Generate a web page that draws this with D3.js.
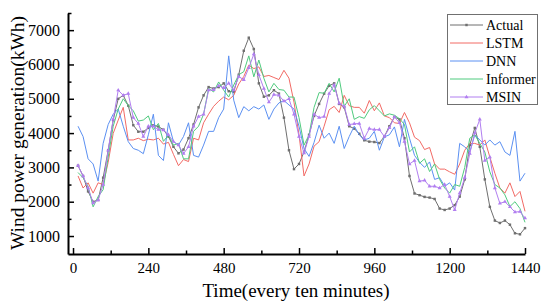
<!DOCTYPE html>
<html><head><meta charset="utf-8">
<script src="https://cdn.jsdelivr.net/npm/d3@7"></script>
<style>
body{margin:0;background:#fff}
svg{display:block;background:#fff}
text{font-family:"Liberation Serif","Times New Roman",serif;fill:#000}
</style>
</head><body>
<svg id="c" width="550" height="303"></svg>
<script>
// Time index (every ten minutes), one sample every 16 steps
const times = d3.range(16, 1441, 16);

const actual = [3050,2750,2300,2000,2050,2700,3500,4380,5000,5100,
  4800,4230,4040,4040,4150,4230,4190,4100,3900,3600,
  3410,3520,3850,4250,4750,5100,5340,5300,5340,5450,
  5220,5200,5700,6400,6780,6450,5450,5060,5100,5250,
  5150,4450,3500,2950,3100,3450,3950,4500,4850,5150,
  5380,5450,4850,4750,4200,4130,3980,3790,3750,3740,
  3710,3900,4200,4470,4400,3850,2750,2240,2190,2140,
  2120,2080,1800,1760,1800,1900,2150,2650,3650,4150,
  3600,2650,1850,1450,1380,1450,1330,1080,1050,1230];

const lstm = [2750,2400,2550,2250,2550,2500,3150,3990,4380,4750,
  3800,3800,3850,3780,3820,3800,3850,3680,3730,3380,
  3050,3230,3170,3850,3800,4300,4550,4780,4930,5050,
  4970,5100,5430,5650,5980,5880,5930,5650,5680,5620,
  5560,5830,5600,4900,3950,2750,3100,3620,3750,4200,
  4680,4780,4600,5100,4800,4750,4750,4580,4950,4650,
  4880,4500,4450,4300,4280,4600,4300,3880,3780,3520,
  3580,3100,2950,2950,2870,2800,3100,3500,3700,3700,
  3650,3800,3300,2830,2400,2250,2550,2150,2300,1720];

const dnn = [4200,3900,3250,3100,2600,3700,4250,4550,4700,4200,
  3750,3550,3500,3400,3950,4550,3350,3200,4300,3750,
  3650,3900,4300,3350,3300,3650,4050,4050,4450,4700,
  6250,4960,4450,4770,4650,4770,4700,4820,4400,4700,
  4880,4950,4820,4700,4200,3550,3320,3730,4230,3850,
  4000,3700,4200,3550,3900,4200,3950,3800,3850,4050,
  3500,3890,3950,4180,3600,4400,3850,3350,3150,3000,
  3160,2650,2700,2450,2550,2340,3700,3600,3450,3950,
  3800,3650,3800,3650,3750,3450,3350,4050,2600,2830];

const informer = [2850,2700,2450,1850,2150,2350,3300,4200,4700,5000,
  4800,4650,4350,4380,4500,4100,4280,3760,3940,3650,
  3700,3250,3250,4050,4200,4550,5300,5200,5490,5250,
  5050,5400,5700,5790,6250,5640,6130,5600,5200,5450,
  5270,5250,5050,5050,4450,3650,3950,4750,5180,5160,
  5450,5200,5600,4780,5000,4400,4480,4430,4680,4800,
  4650,4500,4560,4520,4420,4250,3450,3600,3120,3250,
  2880,3100,2650,2400,2250,2500,2450,3000,3850,3950,
  3700,3450,2870,2500,2400,2200,1860,2000,1800,1400];

const msin = [3050,2750,2400,1960,2050,2500,3500,4400,5250,5100,
  5150,4450,4280,3900,4200,4200,4100,4090,3950,3750,
  3650,3400,3600,4200,4480,4550,5250,5260,5380,5320,
  5450,5250,5650,5550,5900,6300,5700,5300,4900,5120,
  5100,4930,5000,4550,3900,3420,3900,4550,4450,4480,
  5150,5400,4870,4780,4250,4270,4280,3850,4130,4100,
  4100,3900,4150,4470,4300,3750,3100,3200,2600,2620,
  2450,2450,2400,2500,2150,1760,2250,2700,3400,4000,
  4400,3200,3300,2400,1950,2000,1850,1700,1710,1520];

const seriesNames = ["Actual","LSTM","DNN","Informer","MSIN"];
const seriesValues = [actual, lstm, dnn, informer, msin];
const colors = ["#6f6f6f","#f26a65","#5b90f2","#4fcb7e","#b17ef0"];
const markers = ["square", null, null, null, "triangle"];

const xTicks = [0,240,480,720,960,1200,1440];
const xMinor = [120,360,600,840,1080,1320];
const yTicks = [1000,2000,3000,4000,5000,6000,7000];
const yMinor = [1500,2500,3500,4500,5500,6500,7500];

const svg = d3.select("#c");
const x = d3.scaleLinear().domain([-16,1440]).range([68,525]);
const y = d3.scaleLinear().domain([476,7500]).range([254,13]);

// series
const line = d3.line().x((d,i)=>x(times[i])).y(d=>y(d));
const sq = d3.symbol().type(d3.symbolSquare).size(6);
const tri = d3.symbol().type(d3.symbolTriangle).size(7);

seriesValues.forEach((vals, k) => {
  const g = svg.append("g");
  g.append("path").datum(vals).attr("d", line)
    .attr("fill","none").attr("stroke",colors[k]).attr("stroke-width",1)
    .attr("stroke-linejoin","round");
  if (markers[k]) {
    g.selectAll("path.m").data(vals).enter().append("path").attr("class","m")
      .attr("d", markers[k]==="square" ? sq : tri)
      .attr("transform",(d,i)=>`translate(${x(times[i])},${y(d)})`)
      .attr("fill",colors[k]);
  }
});

// axes
const gx = svg.append("g").attr("transform","translate(0,254)")
  .call(d3.axisBottom(x).tickValues(xTicks).tickSize(-6).tickSizeOuter(0).tickPadding(8).tickFormat(d3.format("d")));
svg.append("g").attr("transform","translate(0,254)")
  .call(d3.axisBottom(x).tickValues(xMinor).tickSize(-3.5).tickSizeOuter(0).tickFormat(""))
  .select(".domain").remove();
const gy = svg.append("g").attr("transform","translate(68,0)")
  .call(d3.axisLeft(y).tickValues(yTicks).tickSize(-6).tickSizeOuter(0).tickPadding(8).tickFormat(d3.format("d")));
svg.append("g").attr("transform","translate(68,0)")
  .call(d3.axisLeft(y).tickValues(yMinor).tickSize(-3.5).tickSizeOuter(0).tickFormat(""))
  .select(".domain").remove();

svg.selectAll(".domain").attr("stroke","#000").attr("stroke-width",2);
svg.selectAll(".tick line").attr("stroke","#000").attr("stroke-width",1.5);
gx.selectAll(".tick text").style("font-size","15px").style("font-family",'"Liberation Serif","Times New Roman",serif');
gy.selectAll(".tick text").style("font-size","16px").style("font-family",'"Liberation Serif","Times New Roman",serif');

// titles
svg.append("text").attr("x",296).attr("y",297).attr("text-anchor","middle")
  .style("font-size","19px").text("Time(every ten minutes)");
svg.append("text").attr("transform","translate(24,133) rotate(-90)").attr("text-anchor","middle")
  .style("font-size","19.5px").text("Wind power generation(kWh)");

// legend
const lg = svg.append("g");
lg.append("rect").attr("x",447.5).attr("y",14.5).attr("width",90).attr("height",90)
  .attr("fill","#fff").attr("stroke","#707070").attr("stroke-width",1);
seriesNames.forEach((name,k) => {
  const yy = 25 + k*18;
  lg.append("line").attr("x1",450).attr("x2",483).attr("y1",yy).attr("y2",yy)
    .attr("stroke",colors[k]).attr("stroke-width",1);
  if (markers[k]) {
    lg.append("path").attr("d", markers[k]==="square" ? sq : tri)
      .attr("transform",`translate(466.5,${yy})`).attr("fill",colors[k]);
  }
  lg.append("text").attr("x",486).attr("y",yy+5).style("font-size","14px").text(name);
});
</script>
</body></html>
